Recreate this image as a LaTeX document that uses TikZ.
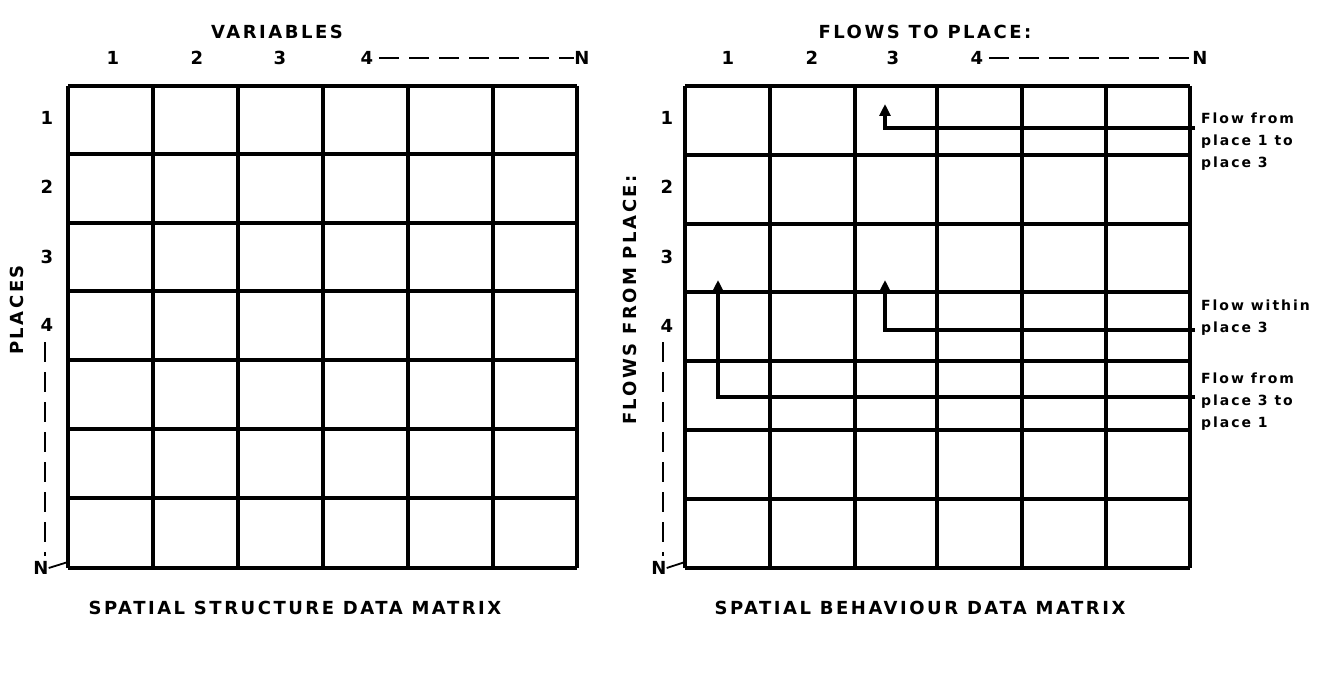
\documentclass[tikz,border=0pt]{standalone}
\usepackage{fontspec}
\setmainfont{DejaVu Sans}[LetterSpace=14]
\usetikzlibrary{arrows.meta}
\begin{document}
\begin{tikzpicture}[x=1pt,y=-1pt,
  lbl/.style={font=\bfseries\fontsize{18}{20}\selectfont,inner sep=0pt},
  note/.style={font=\bfseries\fontsize{14}{22}\selectfont,inner sep=0pt,align=left,anchor=west},
  gridl/.style={line width=3.4pt},
  dsh/.style={line width=2.4pt,dash pattern=on 20pt off 10pt},
  flow/.style={line width=3.4pt,-{Triangle[length=12pt,width=11pt]}}]
\useasboundingbox (0,0) rectangle (1344,682);
\clip (0,0) rectangle (1344,682);
% left grid
\foreach \x in {68,153,238,323,408,493,577} \draw[gridl] (\x,86) -- (\x,568);
\foreach \y in {86,154,223,291,360,429,498,568} \draw[gridl] (68,\y) -- (577,\y);
\node[lbl] (vt) at (277,32) {VARIABLES};
\node[lbl] (c1) at (113,58) {1};
\node[lbl] (c2) at (197,58) {2};
\node[lbl] (c3) at (280,58) {3};
\node[lbl] (c4) at (367,58) {4};
\node[lbl] (cN) at (582,58) {N};
\draw[dsh] (c4.east)++(6,0) -- (cN.west);
\node[lbl] (r1) at (47,118) {1};
\node[lbl] (r2) at (47,187) {2};
\node[lbl] (r3) at (47,257) {3};
\node[lbl] (r4) at (47,325) {4};
\node[lbl] (rN) at (41,568) {N};
\draw[dsh] (45,342) -- (45,556);
\draw[line width=1.8pt] (rN.east) -- (68,562);
\node[lbl,rotate=90] (pl) at (17,310) {PLACES};
\node[lbl] (t1) at (295,608) {SPATIAL STRUCTURE DATA MATRIX};
% right grid
\foreach \x in {685,770,855,937,1022,1106,1190} \draw[gridl] (\x,86) -- (\x,568);
\foreach \y in {86,155,224,292,361,430,499,568} \draw[gridl] (685,\y) -- (1190,\y);
\node[lbl] (ft) at (925,32) {FLOWS TO PLACE:};
\node[lbl] (d1) at (728,58) {1};
\node[lbl] (d2) at (812,58) {2};
\node[lbl] (d3) at (893,58) {3};
\node[lbl] (d4) at (977,58) {4};
\node[lbl] (dN) at (1200,58) {N};
\draw[dsh] (d4.east)++(6,0) -- (dN.west);
\node[lbl] (s1) at (667,118) {1};
\node[lbl] (s2) at (667,187) {2};
\node[lbl] (s3) at (667,257) {3};
\node[lbl] (s4) at (667,326) {4};
\node[lbl] (sN) at (659,568) {N};
\draw[dsh] (663,342) -- (663,556);
\draw[line width=1.8pt] (sN.east) -- (685,562);
\node[lbl,rotate=90] (fp) at (630,300) {FLOWS FROM PLACE:};
\node[lbl] (t2) at (920,608) {SPATIAL BEHAVIOUR DATA MATRIX};
% arrows
\coordinate (a1s) at (1195,128); \coordinate (a1e) at (885,104);
\coordinate (a2s) at (1195,330); \coordinate (a2e) at (885,280);
\coordinate (a3s) at (1195,397); \coordinate (a3e) at (718,280);
\draw[flow] (a1s) -| (a1e);
\draw[flow] (a2s) -| (a2e);
\draw[flow] (a3s) -| (a3e);
\node[note] (n1) at (1201,142) {Flow from\\place 1 to\\place 3};
\node[note] (n2) at (1201,318) {Flow within\\place 3};
\node[note] (n3) at (1201,402) {Flow from\\place 3 to\\place 1};
\end{tikzpicture}
\end{document}
